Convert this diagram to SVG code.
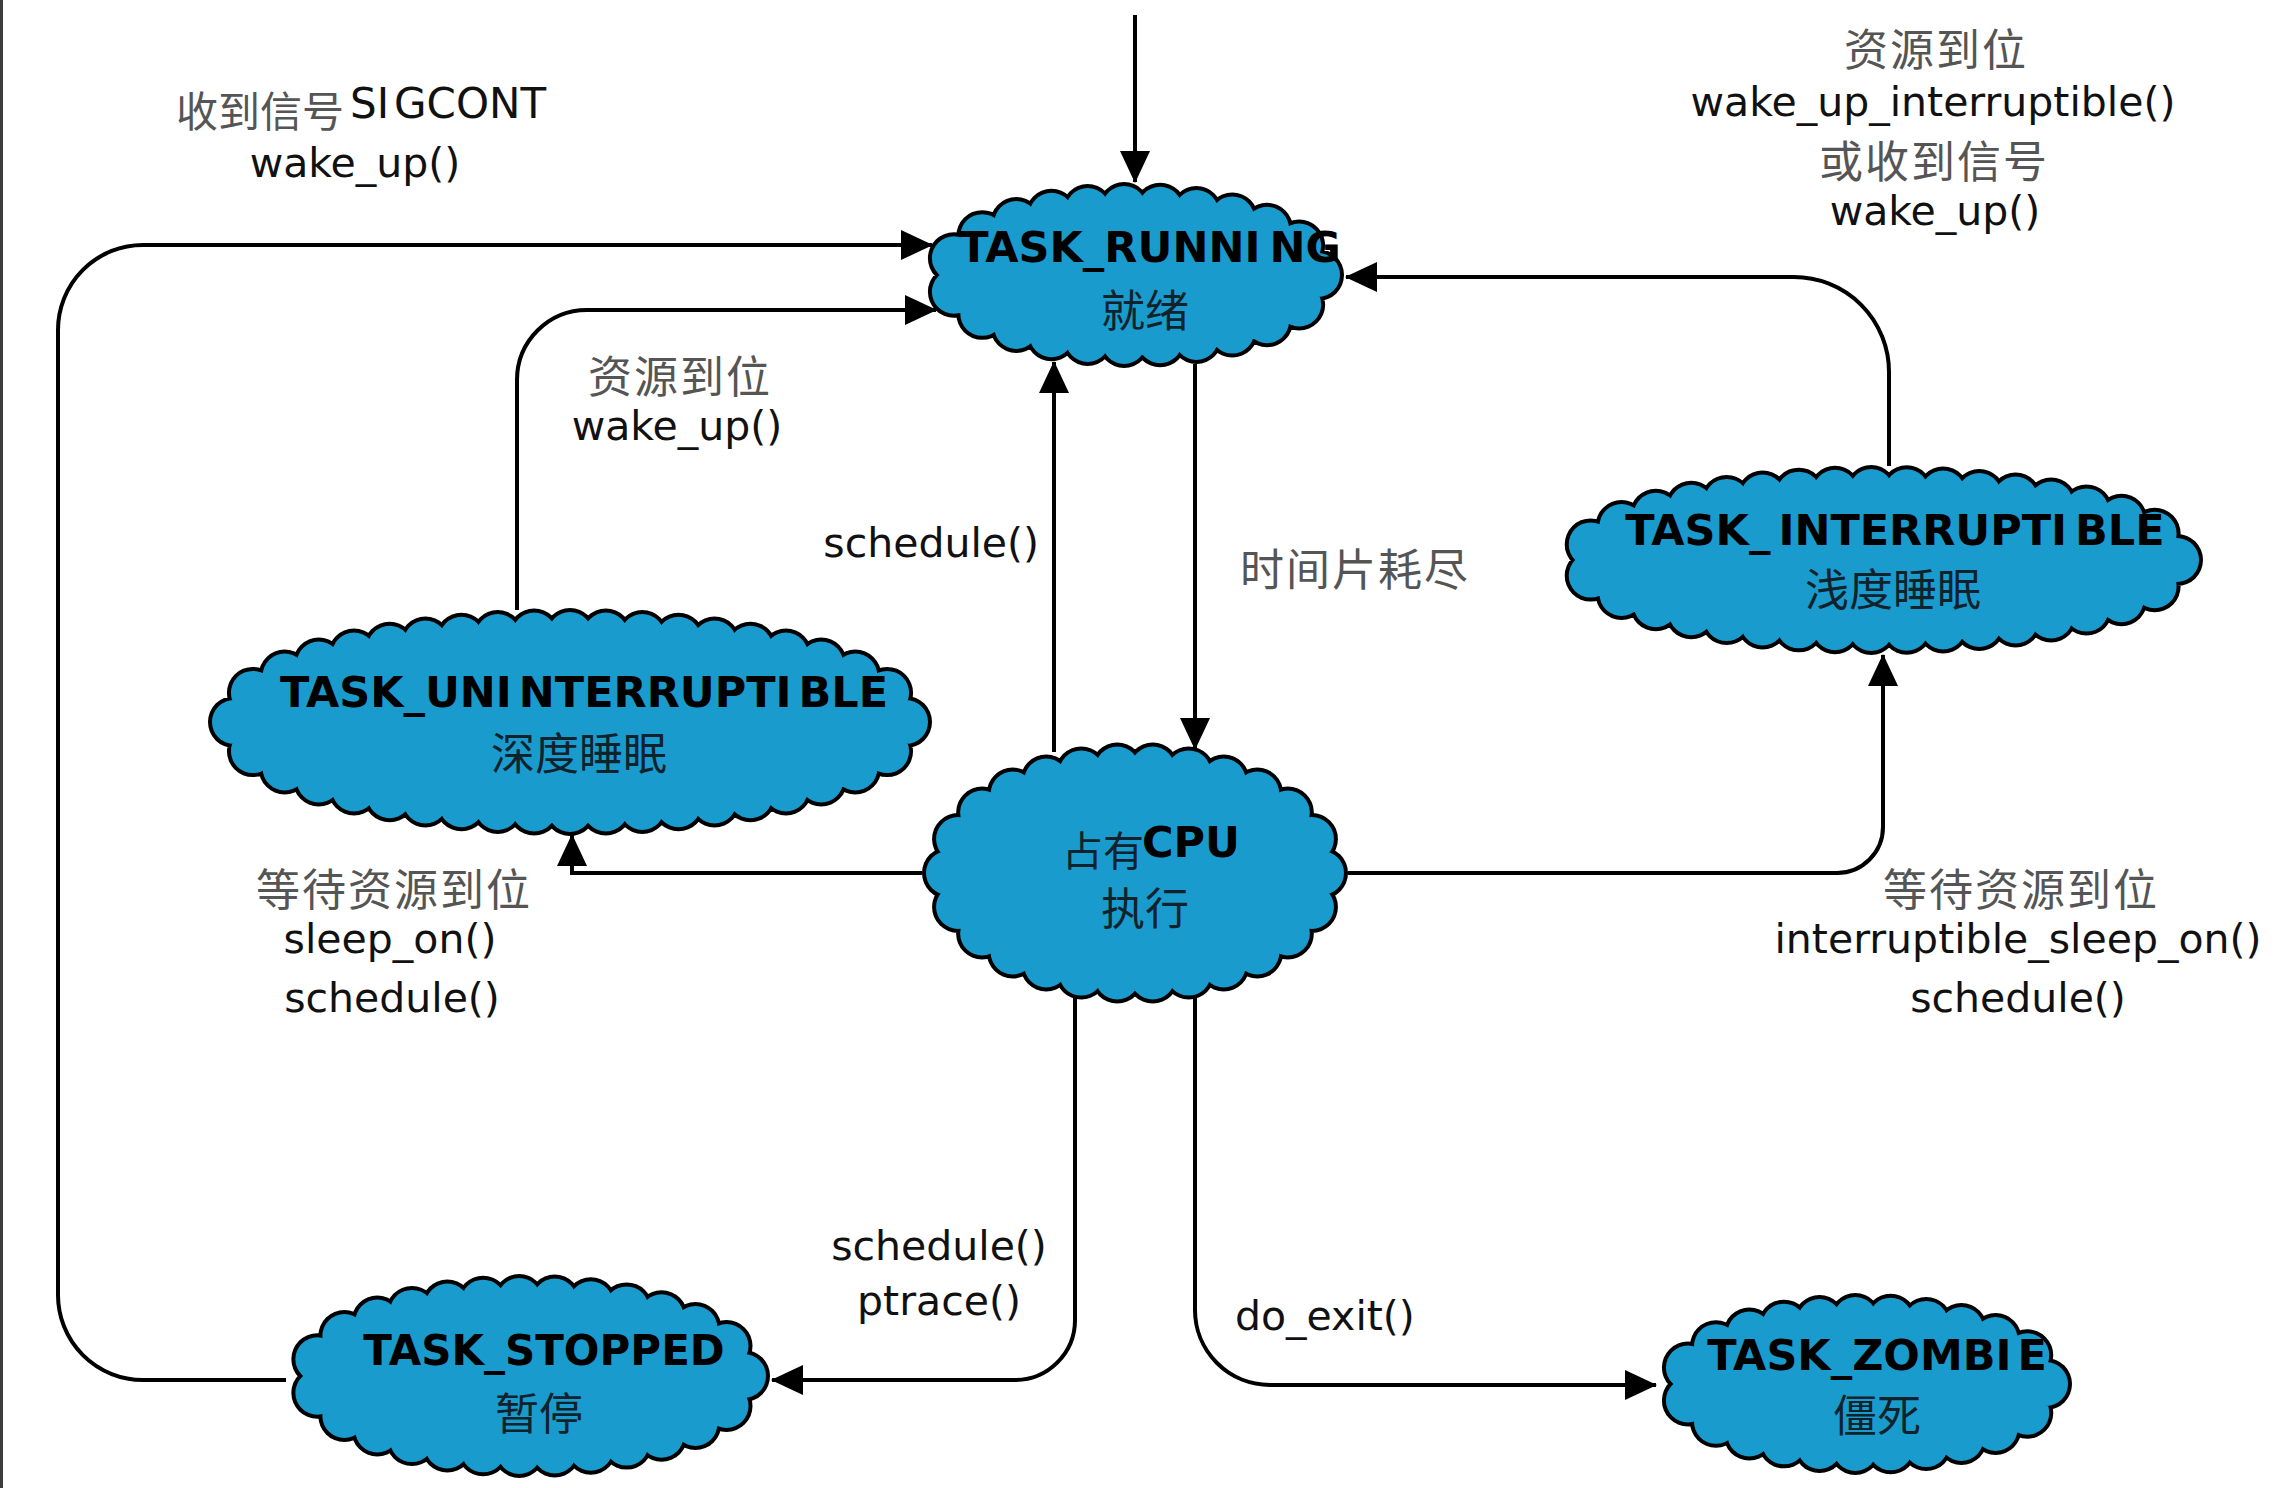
<svg xmlns="http://www.w3.org/2000/svg" width="2288" height="1488" viewBox="0 0 2288 1488">
<style>
.cb{fill:none;stroke:#000;stroke-width:52;stroke-linecap:round;stroke-dasharray:0 1}
.cf{fill:#1a9bcd;stroke:#1a9bcd;stroke-width:44;stroke-linecap:round;stroke-dasharray:0 1}
.nb{font-family:"DejaVu Sans","Liberation Sans",sans-serif;font-weight:bold;font-size:43px;fill:#000}
.nc{font-family:"Noto Sans CJK SC","DejaVu Sans",sans-serif;font-size:44px;fill:#10232c}
.lab{font-family:"DejaVu Sans","Liberation Sans",sans-serif;font-size:41px;fill:#111}
.cjk{font-family:"Noto Sans CJK SC","DejaVu Sans",sans-serif;font-size:44px;fill:#555;letter-spacing:2px}
.mid{text-anchor:middle}
.end{text-anchor:end}
.con{fill:none;stroke:#000;stroke-width:4;marker-end:url(#arr)}
</style>
<defs>
<marker id="arr" viewBox="0 0 32 30" markerWidth="32" markerHeight="30" refX="31" refY="15" orient="auto" markerUnits="userSpaceOnUse"><path d="M0,0 L32,15 L0,30 Z" fill="#000"/></marker>
<path id="e-run" pathLength="23" d="M1318 275 A185 67 0 1 1 948 275 A185 67 0 1 1 1318 275 Z"/>
<path id="e-int" pathLength="35" d="M2177 560 A297 69 0 1 1 1583 560 A297 69 0 1 1 2177 560 Z"/>
<path id="e-unint" pathLength="40" d="M906 722 A336 88 0 1 1 234 722 A336 88 0 1 1 906 722 Z"/>
<path id="e-cpu" pathLength="26" d="M1322 873 A187 105 0 1 1 948 873 A187 105 0 1 1 1322 873 Z"/>
<path id="e-stop" pathLength="27" d="M744 1376 A216 76 0 1 1 312 1376 A216 76 0 1 1 744 1376 Z"/>
<path id="e-zom" pathLength="23" d="M2046 1384 A182 65 0 1 1 1682 1384 A182 65 0 1 1 2046 1384 Z"/>
</defs>
<rect x="0" y="0" width="3" height="1488" fill="#3c3c3c"/>
<g id="connectors">
<path class="con" d="M1135 15 V182"/>
<path class="con" d="M286 1380 H143 A85 85 0 0 1 58 1295 V330 A85 85 0 0 1 143 245 H932"/>
<path class="con" d="M517 610 V380 A70 70 0 0 1 587 310 H936"/>
<path class="con" d="M1054 752 V362"/>
<path class="con" d="M1195 364 V749"/>
<path class="con" d="M1889 466 V372 A95 95 0 0 0 1794 277 H1346"/>
<path class="con" d="M1348 873 H1837 A46 46 0 0 0 1883 827 V655"/>
<path class="con" d="M922 873 H572 V835"/>
<path class="con" d="M1075 998 V1320 A60 60 0 0 1 1015 1380 H772"/>
<path class="con" d="M1195 998 V1310 A75 75 0 0 0 1270 1385 H1656"/>
</g>
<g id="labels">
<text class="cjk" x="176" y="127" style="letter-spacing:0;font-size:42px">收到信号</text>
<text class="lab" x="350" y="118" style="font-size:42px">SI<tspan dx="5">GCONT</tspan></text>
<text class="lab mid" x="355" y="177">wake_up()</text>
<text class="cjk mid" x="680" y="393">资源到位</text>
<text class="lab mid" x="677" y="440">wake_up()</text>
<text class="lab end" x="1039" y="557">schedule()</text>
<text class="cjk" x="1240" y="586">时间片耗尽</text>
<text class="cjk mid" x="1936" y="66">资源到位</text>
<text class="lab mid" x="1933" y="116">wake_up_interruptible()</text>
<text class="cjk mid" x="1934" y="178">或收到信号</text>
<text class="lab mid" x="1935" y="225">wake_up()</text>
<text class="cjk mid" x="394" y="906">等待资源到位</text>
<text class="lab mid" x="390" y="953">sleep_on()</text>
<text class="lab mid" x="392" y="1012">schedule()</text>
<text class="cjk mid" x="2021" y="906">等待资源到位</text>
<text class="lab mid" x="2018" y="953">interruptible_sleep_on()</text>
<text class="lab mid" x="2018" y="1012">schedule()</text>
<text class="lab mid" x="939" y="1260">schedule()</text>
<text class="lab mid" x="939" y="1315">ptrace()</text>
<text class="lab" x="1235" y="1330">do_exit()</text>
</g>
<g id="node-running">
<use href="#e-run" class="cb"/><use href="#e-run" class="cf"/>
<text class="nb mid" x="1150" y="262">TASK_RUNNI<tspan dx="9">NG</tspan></text>
<text class="nc mid" x="1145" y="327">就绪</text>
</g>
<g id="node-interruptible">
<use href="#e-int" class="cb"/><use href="#e-int" class="cf"/>
<text class="nb mid" x="1895" y="545">TASK_<tspan dx="8">INTERRUPTI</tspan><tspan dx="8">BLE</tspan></text>
<text class="nc mid" x="1893" y="606">浅度睡眠</text>
</g>
<g id="node-uninterruptible">
<use href="#e-unint" class="cb"/><use href="#e-unint" class="cf"/>
<text class="nb mid" x="584" y="707">TASK_UNI<tspan dx="7">NTERRUPTI</tspan><tspan dx="7">BLE</tspan></text>
<text class="nc mid" x="579" y="770">深度睡眠</text>
</g>
<g id="node-cpu">
<use href="#e-cpu" class="cb"/><use href="#e-cpu" class="cf"/>
<text class="nc" x="1062" y="866" style="font-size:41px">占有</text>
<text class="nb" x="1142" y="857">CPU</text>
<text class="nc mid" x="1145" y="925">执行</text>
</g>
<g id="node-stopped">
<use href="#e-stop" class="cb"/><use href="#e-stop" class="cf"/>
<text class="nb mid" x="544" y="1365" style="font-size:42px">TASK_STOPPED</text>
<text class="nc mid" x="539" y="1430">暂停</text>
</g>
<g id="node-zombie">
<use href="#e-zom" class="cb"/><use href="#e-zom" class="cf"/>
<text class="nb mid" x="1877" y="1370">TASK_ZOMBI<tspan dx="6">E</tspan></text>
<text class="nc mid" x="1877" y="1432">僵死</text>
</g>
</svg>
